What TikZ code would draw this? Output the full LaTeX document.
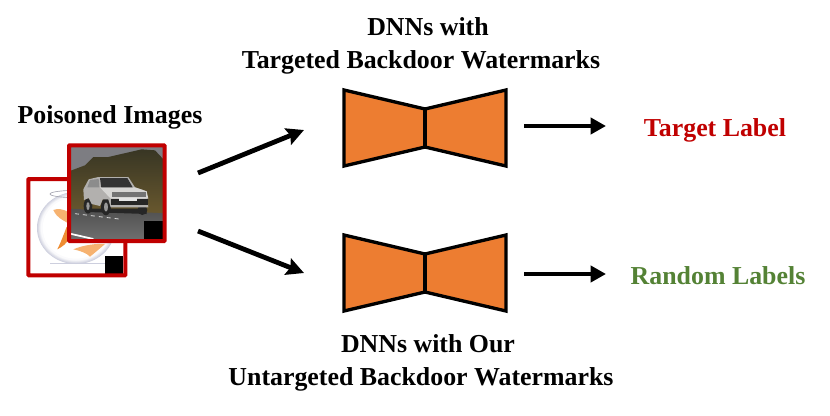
\documentclass[tikz,border=0pt]{standalone}
\usepackage{fontspec}
\setmainfont{Liberation Serif}
\definecolor{framered}{RGB}{192,0,0}
\definecolor{netorange}{RGB}{237,125,49}
\definecolor{randgreen}{RGB}{84,130,53}
\definecolor{skygrey}{RGB}{125,125,130}
\definecolor{hilltop}{RGB}{56,54,36}
\definecolor{hillbot}{RGB}{105,88,46}
\definecolor{roadtop}{RGB}{80,80,80}
\definecolor{roadbot}{RGB}{112,112,112}
\definecolor{carsilver}{RGB}{178,176,174}
\definecolor{carfront}{RGB}{215,214,212}
\definecolor{fishorange}{RGB}{246,178,112}
\definecolor{fishdeep}{RGB}{238,140,50}
\definecolor{bowlgrey}{RGB}{205,207,222}
\usetikzlibrary{arrows.meta}
\tikzset{
  caption/.style={font=\fontsize{19.4}{22}\selectfont\bfseries,align=center,inner sep=0pt},
  imgframe/.style={draw=framered,line width=3pt,rounded corners=0.5pt},
  sidearrow/.style={line width=3.6pt,-{Stealth[length=13pt,width=13pt,inset=2pt]}},
  flatarrow/.style={line width=3.6pt,-{Triangle[length=11.5pt,width=12pt]}},
  bowtie/.pic={
    \draw[fill=netorange,line width=2.5pt,miter limit=10] (-81,-38) -- (0,-19) -- (81,-38) -- (81,38) -- (0,19) -- (-81,38) -- cycle;
    \draw[line width=2.5pt] (0,-19) -- (0,19);
  }
}
\begin{document}
\begin{tikzpicture}[x=0.75pt,y=-0.75pt]
\useasboundingbox (0,0) rectangle (830,415);
% captions
\node[caption] (titletop) at (421,46) {\hspace*{10.5pt}DNNs with\\[3pt]Targeted Backdoor Watermarks};
\node[caption] (titlebot) at (421,363) {\hspace*{10.5pt}DNNs with Our\\[3pt]Untargeted Backdoor Watermarks};
\node[caption] (poisoned) at (110,117) {Poisoned Images};
\node[caption,text=framered] (target) at (715,130) {Target Label};
\node[caption,text=randgreen] (random) at (718,276) {Random Labels};
% fish image
\begin{scope}[shift={(0,130)},scale=1/3]
\begin{scope}
\clip (85,147) rectangle (376,436);
\begin{scope}
\clip (85,188) rectangle (376,436);
\foreach \k in {0,10,...,90}
  \fill[white!\k!bowlgrey] (228,294) ellipse ({117-\k*0.13} and {108-\k*0.12});
\fill[white] (228,294) ellipse (100 and 92);
\end{scope}
\draw[bowlgrey!80!black,line width=0.5pt] (228,192) ellipse (78 and 11);
\fill[fishorange] (160,240) .. controls (175,234) and (190,238) .. (205,246) -- (205,280) .. controls (190,270) and (172,266) .. cycle;
\fill[fishdeep] (200,290) .. controls (192,312) and (182,338) .. (172,358) .. controls (188,350) and (200,340) .. (208,325) -- cycle;
\fill[fishorange] (220,358) .. controls (250,345) and (290,340) .. (315,342) .. controls (300,355) and (285,368) .. (270,380) .. controls (262,370) and (240,362) .. cycle;
\fill[bowlgrey] (150,399) rectangle (315,402);
\fill[black] (315,377) rectangle (370,432);
\end{scope}
\draw[imgframe] (85,147) rectangle (376,436);
% car image
\fill[skygrey] (207,46) rectangle (494,333);
\begin{scope}
\clip (207,46) rectangle (494,333);
\shade[top color=hilltop,bottom color=hillbot] (207,124) -- (255,106) -- (280,81) -- (325,81) -- (425,58) -- (465,61) -- (494,92) -- (494,252) -- (207,252) -- cycle;
\shade[top color=roadtop,bottom color=roadbot] (207,236) -- (494,250) -- (494,333) -- (207,333) -- cycle;
\draw[white,line width=1.3pt] (210,311) -- (280,327);
\draw[black!15,line width=0.6pt,dashed] (225,251) -- (365,268);
\fill[black!85] (262,236) -- (440,236) -- (440,252) -- (262,246) -- cycle;
\fill[black!85] (264,228) ellipse (13 and 23);
\fill[black!85] (318,230) ellipse (15 and 26);
\fill[black!85] (427,240) ellipse (15 and 15);
\fill[carsilver] (250,178) -- (266,148) -- (295,141) -- (385,141) -- (405,172) -- (440,184) -- (445,232) -- (332,232) -- (325,208) -- (308,208) -- (300,228) -- (275,222) -- (266,204) -- (252,210) -- cycle;
\fill[carfront] (300,172) -- (405,172) -- (440,184) -- (445,206) -- (332,206) -- cycle;
\fill[black!80] (300,144) -- (382,144) -- (398,172) -- (304,172) -- cycle;
\fill[black!45] (270,150) -- (296,147) -- (298,172) -- (262,172) -- cycle;
\fill[black!55] (335,187) rectangle (438,201);
\fill[black!85] (332,206) rectangle (444,224);
\fill[black!10] (358,205) rectangle (410,214);
\fill[black!40] (264,228) ellipse (5 and 12);
\fill[black!40] (318,231) ellipse (6 and 14);
\fill[black] (433,273) rectangle (488,328);
\end{scope}
\draw[imgframe] (207,46) rectangle (494,333);
\end{scope}
% nets
\pic at (425,128) {bowtie};
\pic at (425,273) {bowtie};
% arrows
\coordinate (imgup) at (198,173);
\coordinate (imgdown) at (198,231);
\coordinate (netupin) at (304,130);
\coordinate (netdownin) at (304,273);
\coordinate (netupout) at (524,126);
\coordinate (netdownout) at (524,274);
\coordinate (labelup) at (606,126);
\coordinate (labeldown) at (606,274);
\draw[sidearrow] (imgup) -- (netupin);
\draw[sidearrow] (imgdown) -- (netdownin);
\draw[flatarrow] (netupout) -- (labelup);
\draw[flatarrow] (netdownout) -- (labeldown);
\end{tikzpicture}
\end{document}
